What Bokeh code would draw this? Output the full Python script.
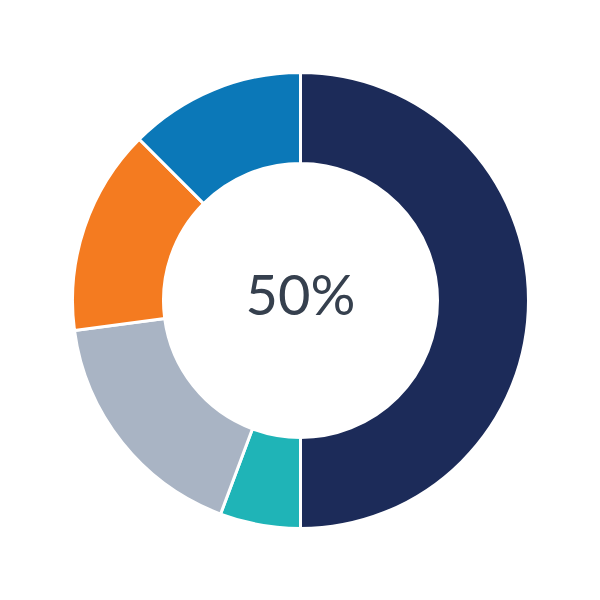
import math
from bokeh.plotting import figure
from bokeh.models import ColumnDataSource, Range1d
from bokeh.core.properties import value
from bokeh.embed import file_html
from bokeh.resources import INLINE

categories = ["Navy", "Teal", "Grey", "Orange", "Blue"]
shares = [50.0, 5.7, 17.2, 14.6, 12.5]
colors = ["#1c2b59", "#1fb4b7", "#a9b4c4", "#f47b20", "#0b78b8"]
center_label = "50%"

total = sum(shares)
starts, ends = [], []
cum = 0.0
for s in shares:
    starts.append(math.pi / 2 - 2 * math.pi * cum / total)
    cum += s
    ends.append(math.pi / 2 - 2 * math.pi * cum / total)

src = ColumnDataSource(dict(cat=categories, share=shares, color=colors,
                            start=starts, end=ends,
                            x=[0] * len(shares), y=[0] * len(shares)))

W = 584
p = figure(width=W, height=W, output_backend="svg", toolbar_location=None,
           x_range=Range1d(-300, W - 300), y_range=Range1d(-(W - 300), 300),
           min_border=0, outline_line_color=None)
p.axis.visible = False
p.grid.visible = False
p.background_fill_color = "white"
p.border_fill_color = "white"

p.annular_wedge(x="x", y="y", inner_radius=137, outer_radius=228,
                start_angle="start", end_angle="end", direction="clock",
                fill_color="color", line_color="white", line_width=3,
                source=src)

p.text(x=[0], y=[7], text=[center_label], text_align="center",
       text_baseline="middle", text_font=value("Lato"),
       text_font_size="56px", text_color="#36404e")

open("out.html", "w").write(file_html(p, INLINE))
